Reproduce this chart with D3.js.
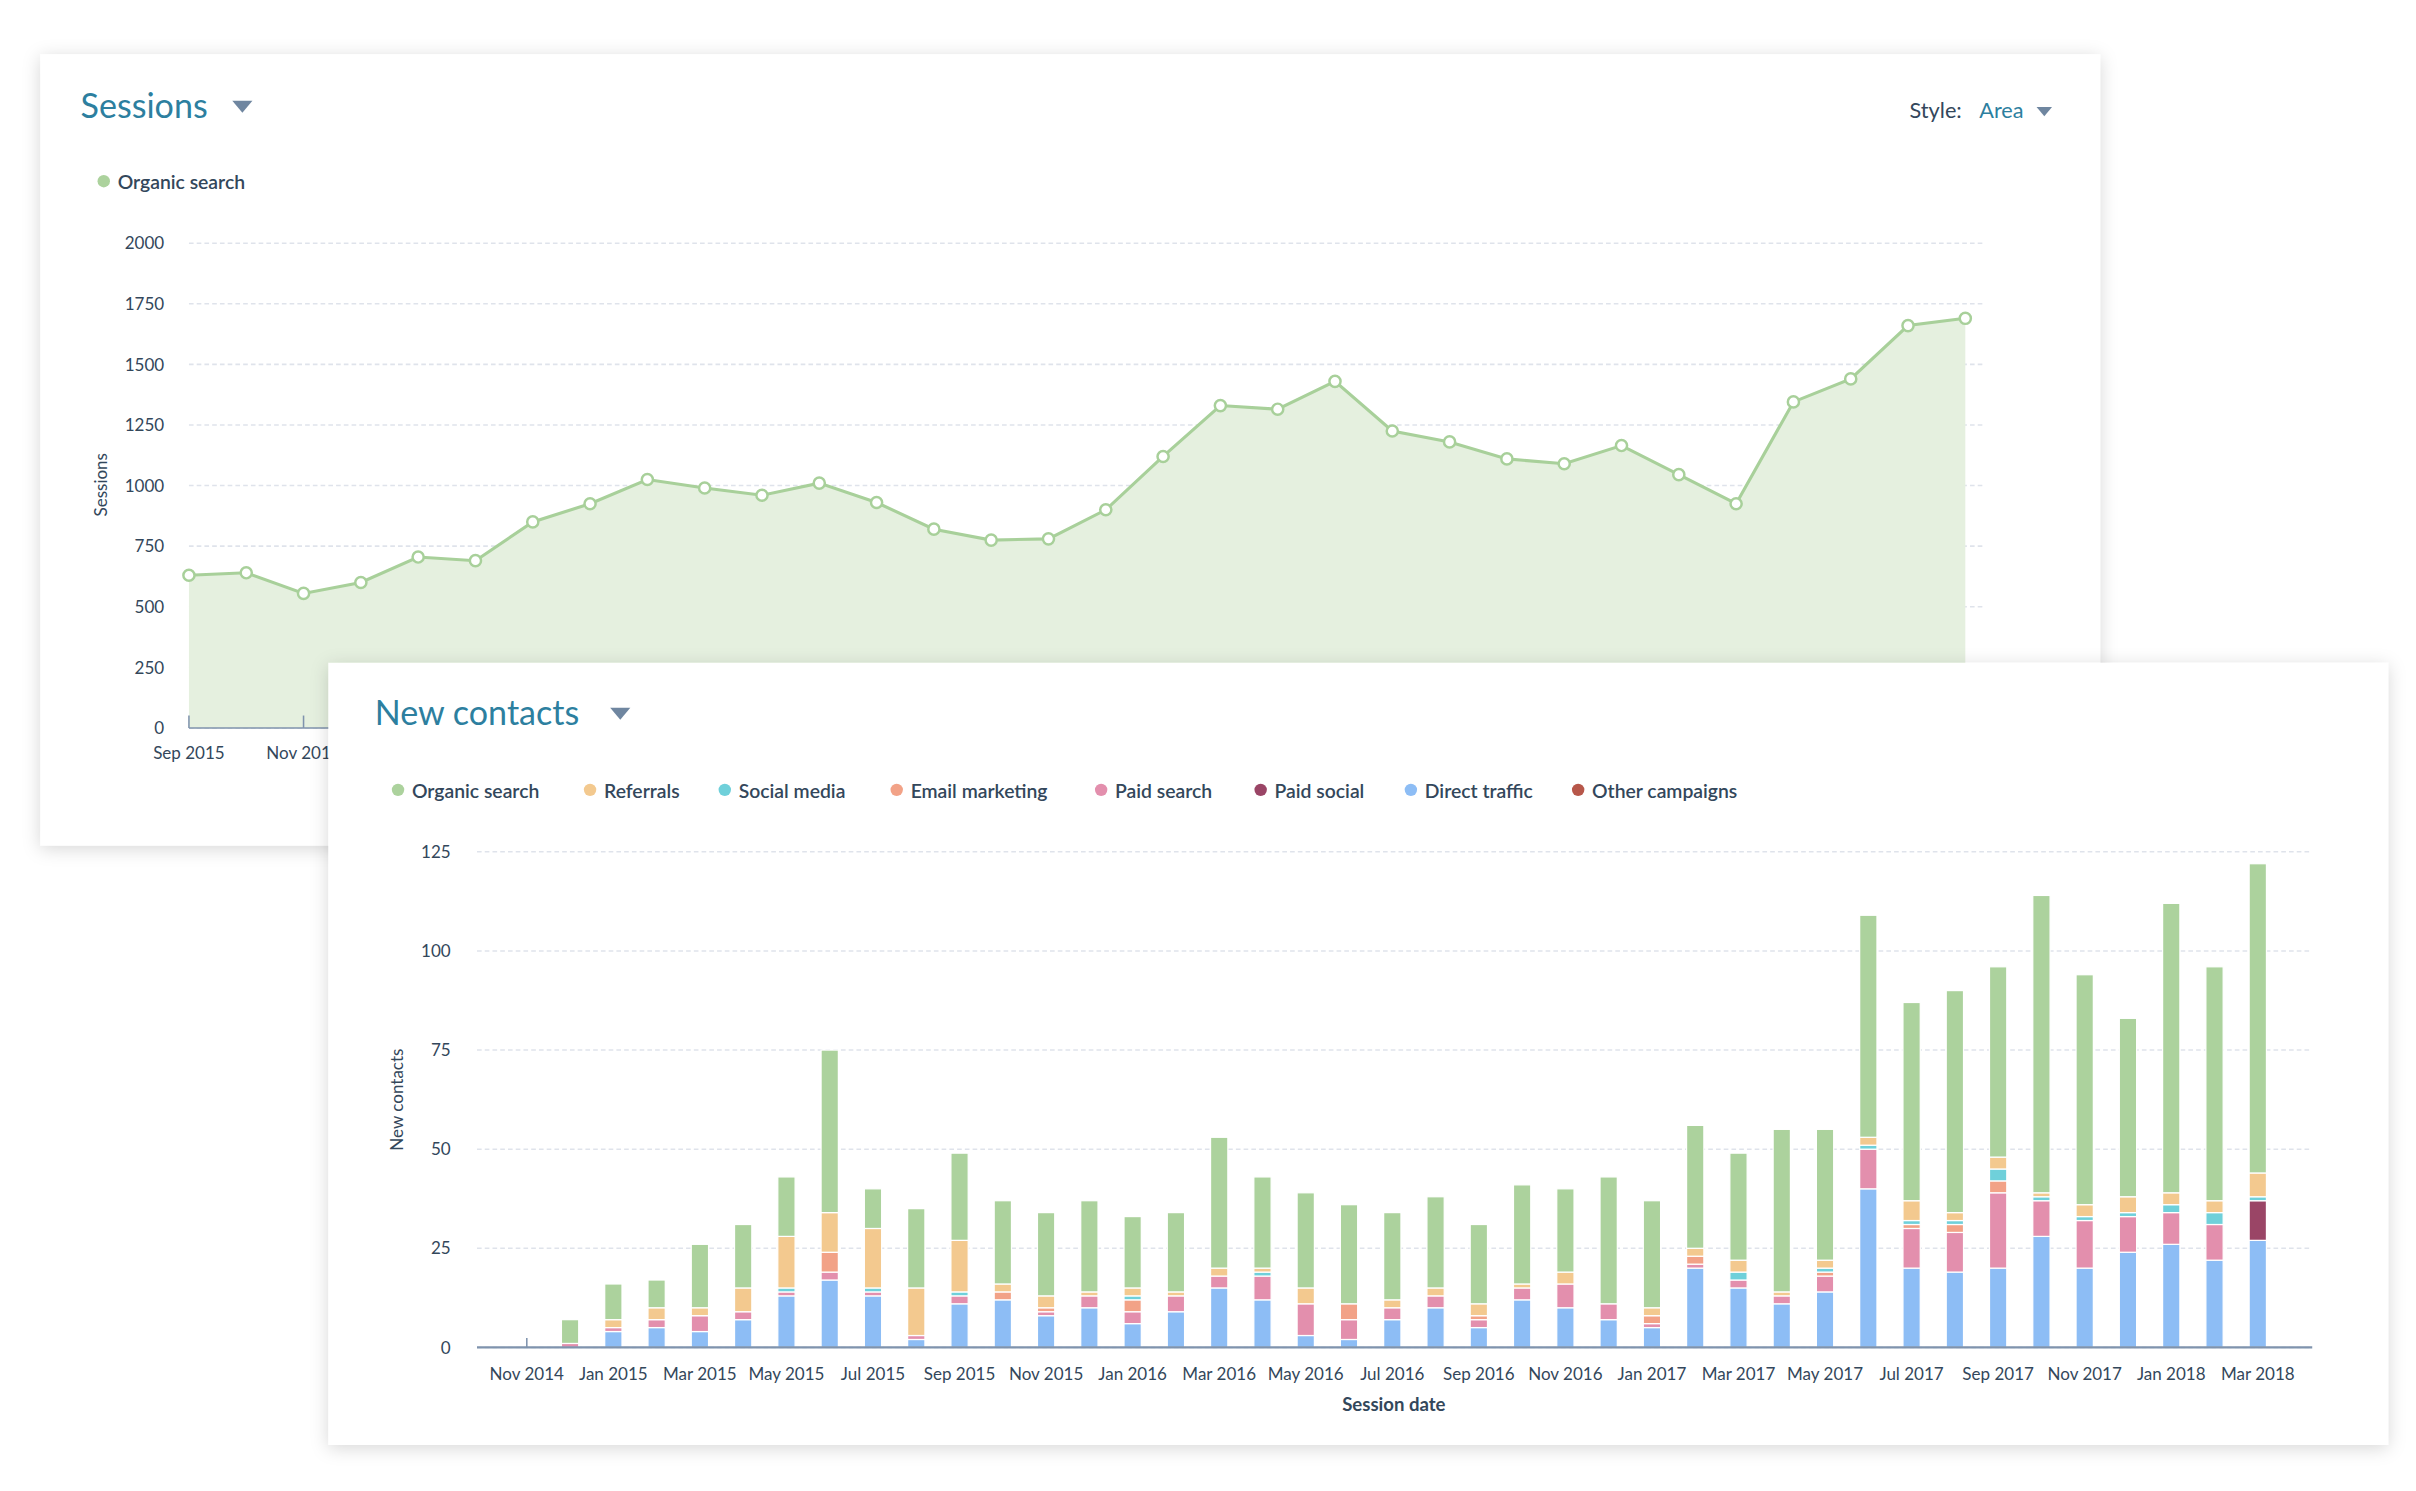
<!DOCTYPE html>
<html><head><meta charset="utf-8">
<script src="https://cdn.jsdelivr.net/npm/d3@7/dist/d3.min.js"></script>
<style>html,body{margin:0;padding:0;background:#fff;overflow:hidden}svg{display:block;font-family:Lato,"Open Sans",sans-serif}</style>
</head><body><svg id="c" width="2416" height="1491" viewBox="0 0 1560 962.7"></svg>
<script>
const sessMonths=["Sep 2015","Oct 2015","Nov 2015","Dec 2015","Jan 2016","Feb 2016","Mar 2016","Apr 2016","May 2016","Jun 2016","Jul 2016","Aug 2016","Sep 2016","Oct 2016","Nov 2016","Dec 2016","Jan 2017","Feb 2017","Mar 2017","Apr 2017","May 2017","Jun 2017","Jul 2017","Aug 2017","Sep 2017","Oct 2017","Nov 2017","Dec 2017","Jan 2018","Feb 2018","Mar 2018","Apr 2018"];
const sessValues=[630,640,555,600,705,690,850,925,1025,990,960,1010,930,820,775,780,900,1120,1330,1315,1430,1225,1180,1110,1090,1165,1045,925,1345,1440,1660,1690];
const sessTicks=[0,250,500,750,1000,1250,1500,1750,2000];
const contactMonths=["Nov 2014","Dec 2014","Jan 2015","Feb 2015","Mar 2015","Apr 2015","May 2015","Jun 2015","Jul 2015","Aug 2015","Sep 2015","Oct 2015","Nov 2015","Dec 2015","Jan 2016","Feb 2016","Mar 2016","Apr 2016","May 2016","Jun 2016","Jul 2016","Aug 2016","Sep 2016","Oct 2016","Nov 2016","Dec 2016","Jan 2017","Feb 2017","Mar 2017","Apr 2017","May 2017","Jun 2017","Jul 2017","Aug 2017","Sep 2017","Oct 2017","Nov 2017","Dec 2017","Jan 2018","Feb 2018","Mar 2018"];
const directTraffic=[0,0,4,5,4,7,13,17,13,2,11,12,8,10,6,9,15,12,3,2,7,10,5,12,10,7,5,20,15,11,14,40,20,19,20,28,20,24,26,22,27];
const paidSocial=[0,0,0,0,0,0,0,0,0,0,0,0,0,0,0,0,0,0,0,0,0,0,0,0,0,0,0,0,0,0,0,0,0,0,0,0,0,0,0,0,10];
const paidSearch=[0,1,1,2,4,2,1,2,1,1,2,0,1,3,3,4,3,6,8,5,3,3,2,3,6,4,1,1,2,2,4,10,10,10,19,9,12,9,8,9,0];
const emailMarketing=[0,0,0,0,0,0,0,5,0,0,0,2,1,0,3,0,0,0,0,4,0,0,1,0,0,0,2,2,0,0,1,0,1,2,3,0,0,0,0,0,0];
const socialMedia=[0,0,0,0,0,0,1,0,1,0,1,0,0,0,1,0,0,1,0,0,0,0,0,0,0,0,0,0,2,0,1,1,1,1,3,1,1,1,2,3,1];
const referrals=[0,0,2,3,2,6,13,10,15,12,13,2,3,1,2,1,2,1,4,0,2,2,3,1,3,0,2,2,3,1,2,2,5,2,3,1,3,4,3,3,6];
const organicSearch=[0,6,9,7,16,16,15,41,10,20,22,21,21,23,18,20,33,23,24,25,22,23,20,25,21,32,27,31,27,41,33,56,50,56,48,75,58,45,73,59,78];
const otherCampaigns=contactMonths.map(()=>0);
const contactTicks=[0,25,50,75,100,125];
const seriesNames=["Organic search","Referrals","Social media","Email marketing","Paid search","Paid social","Direct traffic","Other campaigns"];
const seriesColors=["#acd29d","#f3c98f","#6fd0da","#f2a287","#e38fad","#9a4566","#8dbdf5","#b7574a"];

const svg=d3.select("#c");
const defs=svg.append("defs");
const f=defs.append("filter").attr("id","sh").attr("x","-5%").attr("y","-5%").attr("width","110%").attr("height","115%");
f.append("feDropShadow").attr("dx",0).attr("dy",2).attr("stdDeviation",6).attr("flood-color","#000").attr("flood-opacity",0.16);
const tri=(g,x,y,s,c)=>g.append("path").attr("d",`M${x},${y}L${x+s},${y}L${x+s/2},${y+s*0.6}Z`).attr("fill",c);

// ---- Sessions card
const c1=svg.append("g");
c1.append("rect").attr("x",26).attr("y",35).attr("width",1330).attr("height",511).attr("fill","#fff").attr("filter","url(#sh)");
c1.append("text").attr("x",52).attr("y",76).attr("font-size",22).attr("fill","#2d7f9f").text("Sessions");
tri(c1,150,65,13,"#6f86a0");
c1.append("text").attr("x",1233).attr("y",76).attr("font-size",14).attr("fill","#33475b").text("Style:");
c1.append("text").attr("x",1278).attr("y",76).attr("font-size",14).attr("fill","#2d7f9f").text("Area");
tri(c1,1315,69,10,"#6f86a0");
c1.append("circle").attr("cx",67).attr("cy",117).attr("r",4).attr("fill",seriesColors[0]);
c1.append("text").attr("x",76).attr("y",122).attr("font-size",12.5).attr("font-weight",600).attr("fill","#33475b").text("Organic search");
const sx=d3.scalePoint().domain(sessMonths).range([122,1269]);
const sy=d3.scaleLinear().domain([0,2000]).range([470,157]);
c1.selectAll(".g1").data(sessTicks).join("line").attr("x1",122).attr("x2",1280).attr("y1",d=>sy(d)).attr("y2",d=>sy(d)).attr("stroke","#dfe3eb").attr("stroke-dasharray","3,2");
c1.selectAll(".t1").data(sessTicks).join("text").attr("x",106).attr("y",d=>sy(d)+4).attr("text-anchor","end").attr("font-size",11).attr("fill","#33475b").text(d=>d);
c1.append("text").attr("transform","translate(69,313) rotate(-90)").attr("text-anchor","middle").attr("font-size",11).attr("fill","#33475b").text("Sessions");
c1.append("path").datum(sessValues).attr("fill","#e5f0df").attr("d",d3.area().x((d,i)=>sx(sessMonths[i])).y0(sy(0)).y1(d=>sy(d)));
c1.append("path").datum(sessValues).attr("fill","none").attr("stroke","#a8d09a").attr("stroke-width",2).attr("d",d3.line().x((d,i)=>sx(sessMonths[i])).y(d=>sy(d)));
c1.selectAll(".p").data(sessValues).join("circle").attr("cx",(d,i)=>sx(sessMonths[i])).attr("cy",d=>sy(d)).attr("r",3.6).attr("fill","#fff").attr("stroke","#a8d09a").attr("stroke-width",1.6);
c1.append("line").attr("x1",122).attr("x2",1280).attr("y1",470).attr("y2",470).attr("stroke","#7f93ad");
sessMonths.forEach((m,i)=>{if(i%2==0){c1.append("line").attr("x1",sx(m)).attr("x2",sx(m)).attr("y1",462).attr("y2",470).attr("stroke","#7f93ad");
c1.append("text").attr("x",sx(m)).attr("y",490).attr("text-anchor","middle").attr("font-size",11).attr("fill","#33475b").text(m);}});

// ---- New contacts card
const c2=svg.append("g");
c2.append("rect").attr("x",212).attr("y",428).attr("width",1330).attr("height",505).attr("fill","#fff").attr("filter","url(#sh)");
c2.append("text").attr("x",242).attr("y",468).attr("font-size",22).attr("fill","#2d7f9f").text("New contacts");
tri(c2,394,457,13,"#6f86a0");
const lx=[253,377,464,575,707,810,907,1015];
seriesNames.forEach((n,i)=>{c2.append("circle").attr("cx",lx[i]+4).attr("cy",510).attr("r",4).attr("fill",seriesColors[i]);
c2.append("text").attr("x",lx[i]+13).attr("y",515).attr("font-size",12.5).attr("font-weight",600).attr("fill","#33475b").text(n);});
const cx=d3.scaleBand().domain(contactMonths).range([317.8,1480.2]).padding(0.6);
const cy=d3.scaleLinear().domain([0,125]).range([870,550]);
c2.selectAll(".g2").data(contactTicks).join("line").attr("x1",308).attr("x2",1493).attr("y1",d=>cy(d)).attr("y2",d=>cy(d)).attr("stroke","#dfe3eb").attr("stroke-dasharray","3,2");
c2.selectAll(".t2").data(contactTicks).join("text").attr("x",291).attr("y",d=>cy(d)+4).attr("text-anchor","end").attr("font-size",11).attr("fill","#33475b").text(d=>d);
c2.append("text").attr("transform","translate(260,710) rotate(-90)").attr("text-anchor","middle").attr("font-size",11).attr("fill","#33475b").text("New contacts");
const rows=contactMonths.map((m,i)=>({m,direct:directTraffic[i],psoc:paidSocial[i],psea:paidSearch[i],email:emailMarketing[i],social:socialMedia[i],ref:referrals[i],org:organicSearch[i],other:otherCampaigns[i]}));
const keys=["direct","psoc","psea","email","social","ref","org","other"];
const kcol={direct:seriesColors[6],psoc:seriesColors[5],psea:seriesColors[4],email:seriesColors[3],social:seriesColors[2],ref:seriesColors[1],org:seriesColors[0],other:seriesColors[7]};
const st=d3.stack().keys(keys)(rows);
st.forEach(s=>{c2.append("g").selectAll("rect").data(s.filter(d=>d[1]>d[0])).join("rect")
 .attr("x",d=>cx(d.data.m)).attr("width",cx.bandwidth()).attr("y",d=>cy(d[1])).attr("height",d=>cy(d[0])-cy(d[1]))
 .attr("fill",kcol[s.key]).attr("stroke","#fff").attr("stroke-width",0.8);});
c2.append("line").attr("x1",308).attr("x2",1493).attr("y1",870).attr("y2",870).attr("stroke","#7f93ad").attr("stroke-width",1.5);
c2.append("line").attr("x1",cx("Nov 2014")+cx.bandwidth()/2).attr("x2",cx("Nov 2014")+cx.bandwidth()/2).attr("y1",864).attr("y2",870).attr("stroke","#7f93ad");
contactMonths.forEach((m,i)=>{if(i%2==0)c2.append("text").attr("x",cx(m)+cx.bandwidth()/2).attr("y",891).attr("text-anchor","middle").attr("font-size",11).attr("fill","#33475b").text(m);});
c2.append("text").attr("x",900).attr("y",911).attr("text-anchor","middle").attr("font-size",12).attr("font-weight",700).attr("fill","#33475b").text("Session date");
</script></body></html>
